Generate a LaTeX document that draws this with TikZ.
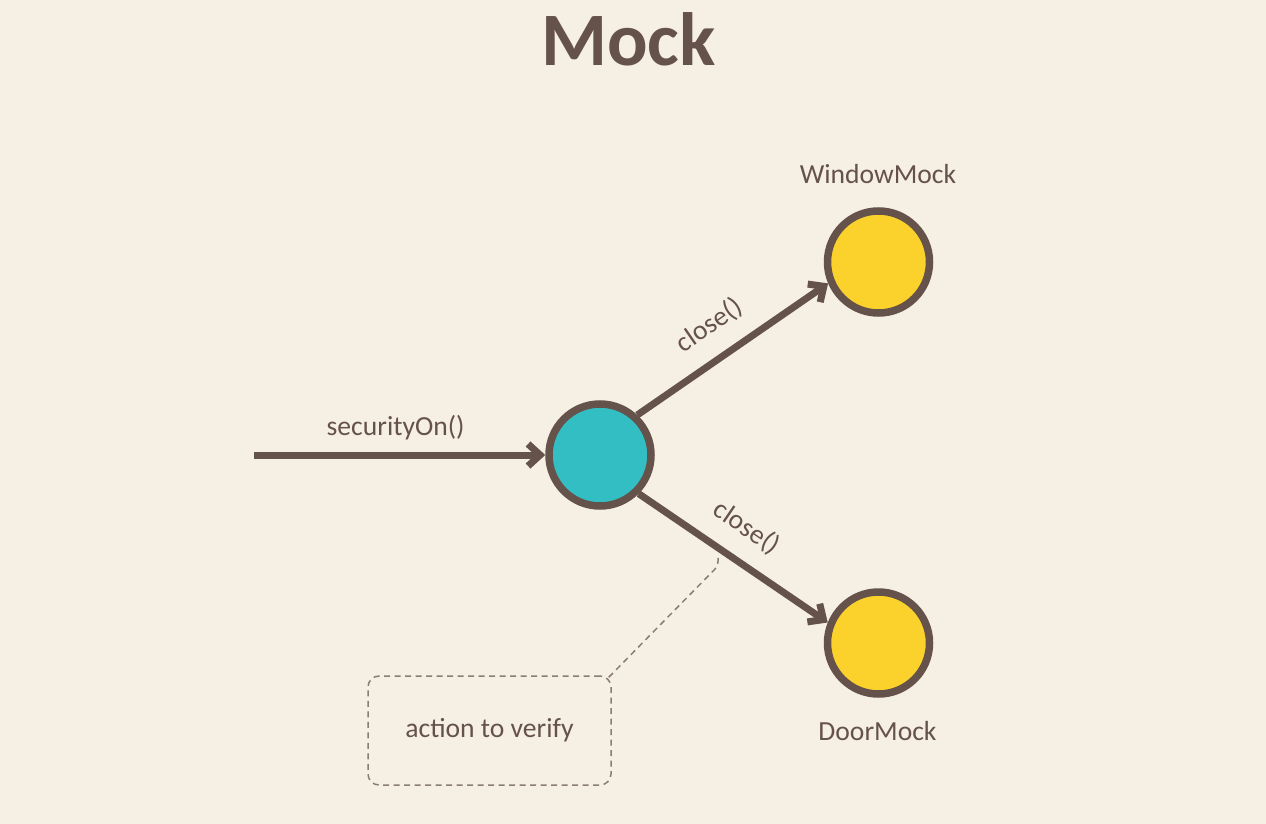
\documentclass[tikz,border=0pt]{standalone}
\usepackage{fontspec}
\setmainfont{Carlito}
\usetikzlibrary{arrows.meta}
\definecolor{bg}{HTML}{F6EFE4}
\definecolor{ink}{HTML}{65524B}
\definecolor{teal}{HTML}{33BEC3}
\definecolor{gold}{HTML}{FBD22B}
\definecolor{dashc}{HTML}{8A7C76}
\tikzset{
  ball/.style={circle, draw=ink, line width=7.5pt, minimum size=102pt, inner sep=0pt},
  conn/.style={draw=ink, line width=7pt,
    -{Straight Barb[length=12pt, width=22pt, line cap=butt, line join=miter]}},
  lbl/.style={text=ink, font=\fontsize{27.6}{32}\selectfont, inner sep=0pt,
    text height=0.72em, text depth=0.22em},
  note/.style={draw=dashc, line width=1.5pt, dash pattern=on 6pt off 4.5pt,
    rounded corners=11pt, minimum width=243pt, minimum height=109pt,
    text=ink, font=\fontsize{27.6}{32}\selectfont},
  callout/.style={draw=dashc, line width=1.5pt, dash pattern=on 6pt off 4.5pt,
    rounded corners=5pt}
}
\begin{document}
\begin{tikzpicture}[x=1pt, y=-1pt]
  \fill[bg] (0,0) rectangle (1266,824);
  \useasboundingbox (0,0) rectangle (1266,824);

  % title
  \node[anchor=base, text=ink, font=\fontsize{75.5}{82}\selectfont\bfseries, inner sep=0pt]
    (title) at (628.5,66) {Mock};

  % nodes
  \node[ball, fill=teal] (c) at (600,455) {};
  \node[ball, fill=gold] (w) at (878.5,262) {};
  \node[ball, fill=gold] (d) at (878.5,643) {};

  \node[lbl, anchor=base] (wl) at (878,183) {WindowMock};
  \node[lbl, anchor=base] (dl) at (877.5,740) {DoorMock};

  % incoming
  \coordinate (start) at (254,455);
  \draw[conn] (start) -- node[lbl, above=14pt, xshift=-4pt] {securityOn()} (c.west);

  % outgoing
  \draw[conn] (c.47) -- node[lbl, pos=0.475, sloped, above=19pt] {close()} (w.203);
  \draw[conn] (c.-45) -- node[lbl, pos=0.475, sloped, above=19pt] {close()} (d.158);

  % note
  \node[note] (box) at (489.5,730.5) {action to verify};
  \coordinate (bend) at (718,566);
  \coordinate (tip) at (718,554);
  \draw[callout] ([xshift=-3pt,yshift=-2pt]box.north east) -- (bend) -- (tip);
\end{tikzpicture}
\end{document}
